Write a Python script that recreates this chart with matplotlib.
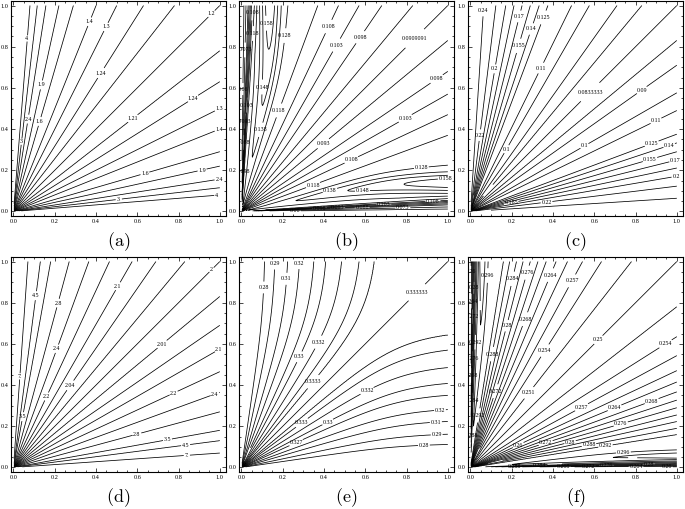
import numpy as np
import matplotlib.pyplot as plt
from matplotlib.ticker import MultipleLocator, FormatStrFormatter

plt.rcParams['mathtext.fontset'] = 'cm'
plt.rcParams['font.family'] = ['Liberation Serif', 'DejaVu Serif']

# ratio u = min(x,y)/max(x,y) where each contour meets the frame, and its level
a_ratio = [0.08, 0.115, 0.157, 0.22, 0.29, 0.4, 0.5, 0.63, 0.78]
a_level = [4.0, 3.0, 2.4, 1.9, 1.6, 1.4, 1.3, 1.24, 1.21]
a_text = ['4.', '3.', '2.4', '1.9', '1.6', '1.4', '1.3', '1.24', '1.21']
a_axis, a_diag, a_diag_text = 6.0, 1.2, '1.2'

c_ratio = [0.064, 0.123, 0.171, 0.211, 0.25, 0.29, 0.333, 0.375, 0.49, 0.576, 0.71, 0.83]
c_level = [0.24, 0.22, 0.2, 0.185, 0.17, 0.155, 0.14, 0.125, 0.11, 0.1, 0.09, 0.085]
c_text = ['0.24', '0.22', '0.2', '0.185', '0.17', '0.155', '0.14', '0.125', '0.11', '0.1', '0.09', '0.085']
c_axis, c_diag, c_diag_text = 0.27, 1 / 12, '0.0833333'

d_ratio = [0.07, 0.13, 0.18, 0.27, 0.365, 0.465, 0.575, 0.69, 0.83]
d_level = [7.0, 4.5, 3.5, 2.8, 2.4, 2.2, 2.1, 2.04, 2.01]
d_text = ['7.', '4.5', '3.5', '2.8', '2.4', '2.2', '2.1', '2.04', '2.01']
d_axis, d_diag, d_diag_text = 10.0, 2.0, '2.'

e_ratio = [0.145, 0.21, 0.29, 0.365, 0.455, 0.53, 0.63, 0.74, 0.835]
e_level = [0.28, 0.29, 0.31, 0.32, 0.327, 0.33, 0.332, 0.333, 0.3333]
e_text = ['0.28', '0.29', '0.31', '0.32', '0.327', '0.33', '0.332', '0.333', '0.3333']
e_axis, e_diag, e_diag_text = 0.26, 1 / 3, '0.333333'
e_bend, e_sharp = 0.8, 6

# (b) and (f): profile across the ratio plus a ridge that grows with distance
b_ratio = [0.012, 0.022, 0.032, 0.038, 0.044, 0.05, 0.056, 0.066, 0.085, 0.2,
           0.29, 0.37, 0.47, 0.57, 0.68, 0.83]
b_base = [0.06, 0.073, 0.088, 0.093, 0.098, 0.103, 0.108, 0.118, 0.124, 0.1275,
          0.124, 0.118, 0.108, 0.103, 0.098, 0.093]
b_level = [0.06, 0.073, 0.088, 0.093, 0.098, 0.103, 0.108, 0.118, 0.128, 0.138, 0.148, 0.158]
b_text = ['0.06', '0.073', '0.088', '0.093', '0.098', '0.103', '0.108', '0.118',
          '0.128', '0.138', '0.148', '0.158']
b_axis, b_diag, b_diag_text = 0.05, 1 / 11, '0.0909091'
b_ridge_u, b_ridge_w, b_ridge_rise, b_ridge_bend = 0.2, 0.07, 0.04, 0.7

f_ratio = [0.006, 0.012, 0.02, 0.03, 0.045, 0.07, 0.11, 0.16, 0.19, 0.223, 0.255,
           0.29, 0.327, 0.367, 0.415, 0.47, 0.543, 0.635, 0.78]
f_base = [0.264, 0.272, 0.28, 0.288, 0.293, 0.2945, 0.2935, 0.292, 0.288, 0.284, 0.28,
          0.276, 0.272, 0.268, 0.264, 0.26, 0.257, 0.254, 0.251]
f_level = [0.251, 0.254, 0.257, 0.26, 0.264, 0.268, 0.272, 0.276, 0.28, 0.284, 0.288,
           0.292, 0.296, 0.3]
f_text = ['0.251', '0.254', '0.257', '0.26', '0.264', '0.268', '0.272', '0.276', '0.28',
          '0.284', '0.288', '0.292', '0.296', '0.3']
f_axis, f_diag, f_diag_text = 0.255, 0.25, '0.25'
f_ridge_u, f_ridge_w, f_ridge_rise, f_ridge_bend = 0.075, 0.035, 0.008, 0.75

panel_names = ['(a)', '(b)', '(c)', '(d)', '(e)', '(f)']
diag_label_at = [0.96, 0.84, 0.58, 0.96, 0.85, 0.62]

g = np.linspace(0.003, 1.0, 500)
X, Y = np.meshgrid(g, g)
P = np.minimum(X, Y)
Q = np.maximum(X, Y)
U = P / Q


def profile(u, ratio, vals, axis_val, diag_val):
    return np.interp(u, [0.0] + list(ratio) + [1.0], [axis_val] + list(vals) + [diag_val])


def soft_cap(q, bend, sharp=6):
    return q / (1 + (q / bend) ** sharp) ** (1 / sharp)


def ridge(p, q, u0, w, rise, bend):
    u = p / soft_cap(q, bend)
    return rise * q * np.exp(-((u - u0) / w) ** 2)


fields = {}
fields['(a)'] = profile(U, a_ratio, a_level, a_axis, a_diag)
fields['(c)'] = profile(U, c_ratio, c_level, c_axis, c_diag)
fields['(d)'] = profile(U, d_ratio, d_level, d_axis, d_diag)
fields['(e)'] = profile(P / soft_cap(Q, e_bend, e_sharp), e_ratio, e_level, e_axis, e_diag)
fields['(b)'] = (profile(U, b_ratio, b_base, b_axis, b_diag)
                 + ridge(P, Q, b_ridge_u, b_ridge_w, b_ridge_rise, b_ridge_bend))
fields['(f)'] = (profile(U, f_ratio, f_base, f_axis, f_diag)
                 + ridge(P, Q, f_ridge_u, f_ridge_w, f_ridge_rise, f_ridge_bend))

levels = {'(a)': (a_level, a_text, a_diag_text), '(b)': (b_level, b_text, b_diag_text),
          '(c)': (c_level, c_text, c_diag_text), '(d)': (d_level, d_text, d_diag_text),
          '(e)': (e_level, e_text, e_diag_text), '(f)': (f_level, f_text, f_diag_text)}

W, H = 685, 509
fig = plt.figure(figsize=(W / 100, H / 100), dpi=100)
col_left = [11, 239, 468]
row_top = [1, 257]
size = 215

for i, name in enumerate(panel_names):
    r, c = divmod(i, 3)
    ax = fig.add_axes([col_left[c] / W, 1 - (row_top[r] + size) / H, size / W, size / H])
    lev, txt, dtxt = levels[name]
    order = np.argsort(lev)
    lev_s = np.array(lev)[order]
    txt_s = [txt[k] for k in order]
    cs = ax.contour(X, Y, fields[name], levels=lev_s, colors='k', linewidths=0.55)
    labs = ax.clabel(cs, fmt=lambda v, l=lev_s, t=txt_s: t[int(np.argmin(np.abs(l - v)))],
                     fontsize=4.3, inline=True, inline_spacing=1)
    cd = ax.contour(X, Y, Y - X, levels=[0], colors='k', linewidths=0.55)
    dpos = diag_label_at[i]
    labs = ax.clabel(cd, fmt=lambda v, t=dtxt: t, fontsize=4.3, inline=True,
                     inline_spacing=1, manual=[(dpos, dpos)]) + labs
    ax.set_xlim(-0.012, 1.03)
    ax.set_ylim(-0.022, 1.022)

    fig.canvas.draw()
    kept = []
    for t in labs:
        t.set_rotation(0)
        px, py = t.get_position()
        if np.hypot(px, py) < 0.15:
            t.set_visible(False)
            continue
        bb = t.get_window_extent().expanded(1.05, 1.1)
        if any(bb.overlaps(k) for k in kept):
            t.set_visible(False)
            continue
        kept.append(bb)

    for sp in ax.spines.values():
        sp.set_linewidth(0.8)
    ax.xaxis.set_major_locator(MultipleLocator(0.2))
    ax.yaxis.set_major_locator(MultipleLocator(0.2))
    ax.xaxis.set_minor_locator(MultipleLocator(0.05))
    ax.yaxis.set_minor_locator(MultipleLocator(0.05))
    ax.xaxis.set_major_formatter(FormatStrFormatter('%.1f'))
    ax.yaxis.set_major_formatter(FormatStrFormatter('%.1f'))
    ax.tick_params(which='both', direction='in', top=True, right=True, width=0.5,
                   labelsize=4.5, pad=2)
    ax.tick_params(which='major', length=3)
    ax.tick_params(which='minor', length=1.5)

    cx = (col_left[c] + size / 2) / W
    cy = 1 - (row_top[r] + size + 26) / H
    fig.text(cx, cy, r'$\mathrm{' + name + '}$', ha='center', va='center', fontsize=13)

fig.savefig('out.png', dpi=100)
